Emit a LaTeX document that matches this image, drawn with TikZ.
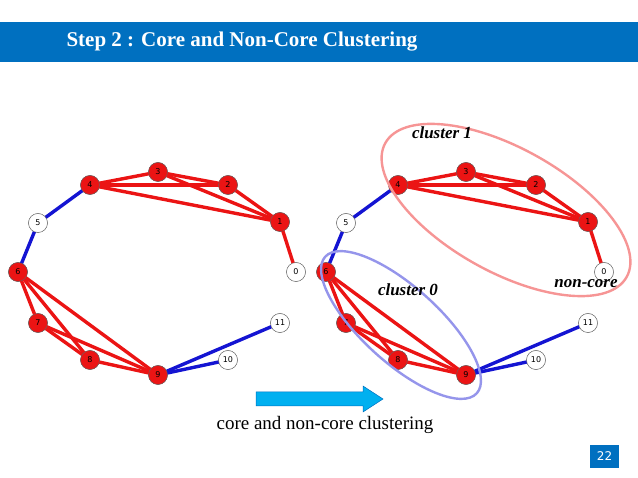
\documentclass[tikz,border=0pt]{standalone}
\usepackage{fontspec}
\setmainfont{Liberation Serif}
\newfontfamily\nsans{DejaVu Sans}
\definecolor{bar}{RGB}{0,112,192}
\definecolor{rd}{RGB}{235,20,20}
\definecolor{bl}{RGB}{20,20,210}
\definecolor{arr}{RGB}{0,176,240}
\begin{document}
\begin{tikzpicture}[x=1pt,y=-1pt,
  v/.style={circle,draw=black!60,line width=0.4pt,minimum size=19pt,inner sep=0pt,font=\nsans\fontsize{8}{8}\selectfont},
  c/.style={v,fill=rd},
  n/.style={v,fill=white},
  re/.style={rd,line width=3.4pt},
  be/.style={bl,line width=3.4pt},
  lab/.style={font=\bfseries\itshape\fontsize{17}{17}\selectfont}]
\useasboundingbox (0,0) rectangle (638,478);
\fill[bar] (0,22) rectangle (638,62);
\node[anchor=west,text=white,font=\bfseries\fontsize{21}{21}\selectfont] (title) at (63,42) {Step 2 : Core and Non-Core Clustering};
\foreach \o/\p in {0/L,308/R}{
  \begin{scope}[xshift=\o]
  \node[c] (\p3) at (158,172) {};
  \node[c] (\p2) at (228,185) {};
  \node[c] (\p4) at (90,185) {};
  \node[c] (\p1) at (280,222) {};
  \node[n] (\p5) at (38,223) {};
  \node[n] (\p0) at (296,272) {};
  \node[c] (\p6) at (18,272) {};
  \node[n] (\p11) at (280,323) {};
  \node[c] (\p7) at (38,323) {};
  \node[n] (\p10) at (228,360) {};
  \node[c] (\p8) at (90,360) {};
  \node[c] (\p9) at (158,375) {};
  \end{scope}
  \foreach \a/\b in {4/3,4/2,4/1,3/2,3/1,2/1,1/0,6/7,6/8,6/9,7/8,7/9,8/9}
    \draw[re] (\p\a.center) -- (\p\b.center);
  \foreach \a/\b in {5/4,6/5,9/10,9/11}
    \draw[be] (\p\a.center) -- (\p\b.center);
}
\foreach \o/\p in {0/L,308/R}{
  \begin{scope}[xshift=\o]
  \foreach \k/\x/\y/\s in {3/158/172/c,2/228/185/c,4/90/185/c,1/280/222/c,5/38/223/n,0/296/272/n,6/18/272/c,11/280/323/n,7/38/323/c,10/228/360/n,8/90/360/c,9/158/375/c}
    \node[\s] at (\x,\y) {\k};
  \end{scope}
}
\draw[rd!45,line width=2.4pt,rotate around={-29:(506,210)}] (506,210) ellipse (138pt and 62pt);
\draw[bl!45,line width=2.4pt,rotate around={-42:(401,325)}] (401,325) ellipse (102pt and 38pt);
\node[lab] (c1) at (442,133) {cluster 1};
\node[lab] (c0) at (408,290) {cluster 0};
\node[lab] (nc) at (586,284) {non-core};
\filldraw[fill=arr,draw=bar,line width=0.5pt] (256,392) -- (363,392) -- (363,386) -- (383,399) -- (363,412) -- (363,406) -- (256,406) -- cycle;
\node[font=\fontsize{19}{19}\selectfont] (cap) at (325,425) {core and non-core clustering};
\fill[bar] (590,445) rectangle (619,468);
\node[text=white,font=\nsans\fontsize{12}{12}\selectfont] (pg) at (604.5,456.5) {22};
\end{tikzpicture}
\end{document}
